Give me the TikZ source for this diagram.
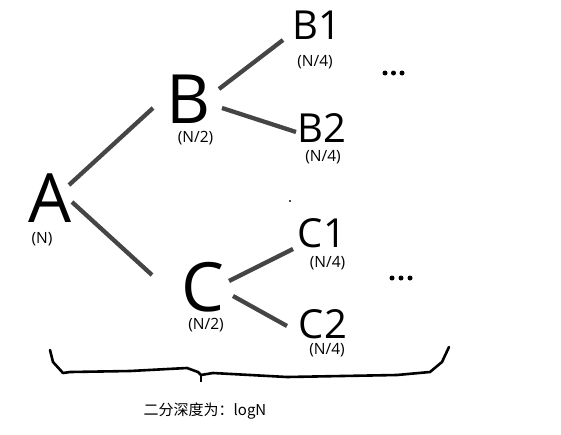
\documentclass[tikz,border=0pt]{standalone}
\usepackage{fontspec}
\setmainfont{Open Sans}
\newfontfamily\cjk{Noto Sans CJK SC}
\begin{document}
\begin{tikzpicture}[x=1pt,y=-1pt,
  big/.style={inner sep=0pt,anchor=base,text depth=0pt,text height=48pt,font=\fontsize{68}{68}\selectfont},
  mid/.style={inner sep=0pt,anchor=base,text depth=0pt,text height=28pt,font=\fontsize{40}{40}\selectfont},
  small/.style={inner sep=0pt,anchor=base,text depth=3pt,text height=11pt,font=\fontsize{15.5}{15.5}\selectfont},
  edge/.style={line width=4.3pt,color=black!73},
  bdot/.style={fill=black,draw=none}]
\useasboundingbox (0,0) rectangle (561,434);
\node[big] (A) at (50.5,222) {A};
\node[big] (B) at (189,123) {B};
\node[big] (C) at (202.5,311) {C};
\node[mid] (B1) at (317,39) {B1};
\node[mid] (B2) at (321.5,142) {B2};
\node[mid] (C1) at (322,247) {C1};
\node[mid] (C2) at (323,338) {C2};
\node[small] (nA) at (42,243) {(N)};
\node[small] (nB) at (195.5,142) {(N/2)};
\node[small] (nC) at (206,329) {(N/2)};
\node[small] (nB1) at (315,66) {(N/4)};
\node[small] (nB2) at (323,161) {(N/4)};
\node[small] (nC1) at (327.5,267) {(N/4)};
\node[small] (nC2) at (327,354) {(N/4)};
% connectors (offsets from baseline anchors)
\draw[edge] ([shift={(18.5,-37)}]A.base) -- ([shift={(-36,-15)}]B.base);
\draw[edge] ([shift={(21.5,-20)}]A.base) -- ([shift={(-50.5,-36)}]C.base);
\draw[edge] ([shift={(30,-34)}]B.base) -- ([shift={(-34,1)}]B1.base);
\draw[edge] ([shift={(33,-15)}]B.base) -- ([shift={(-25.5,-10)}]B2.base);
\draw[edge] ([shift={(26.5,-30)}]C.base) -- ([shift={(-29,2)}]C1.base);
\draw[edge] ([shift={(30.5,-15)}]C.base) -- ([shift={(-36,-12)}]C2.base);
% ellipses
\foreach \x in {385,393.5,402} \fill[bdot] (\x,73) circle (2.5);
\foreach \x in {392,401,410} \fill[bdot] (\x,278) circle (2.5);
\fill[black!70] (289.3,200.3) rectangle (290.8,201.8);
% hand-drawn brace
\draw[line width=2.6pt,line join=round,line cap=round]
  (50,350) -- (53,362) -- (63,373) -- (70,372) -- (130,371) -- (187,368)
  -- (198,372) -- (201,375) -- (213,373) -- (287,377) -- (397,375)
  -- (430,372) -- (442,362) -- (449,347);
\draw[line width=2.6pt] (201,374) -- (201,382);
\node[inner sep=0pt,anchor=base,font=\cjk\fontsize{15}{15}\selectfont] (depth) at (205,415) {二分深度为：logN};
\end{tikzpicture}
\end{document}
